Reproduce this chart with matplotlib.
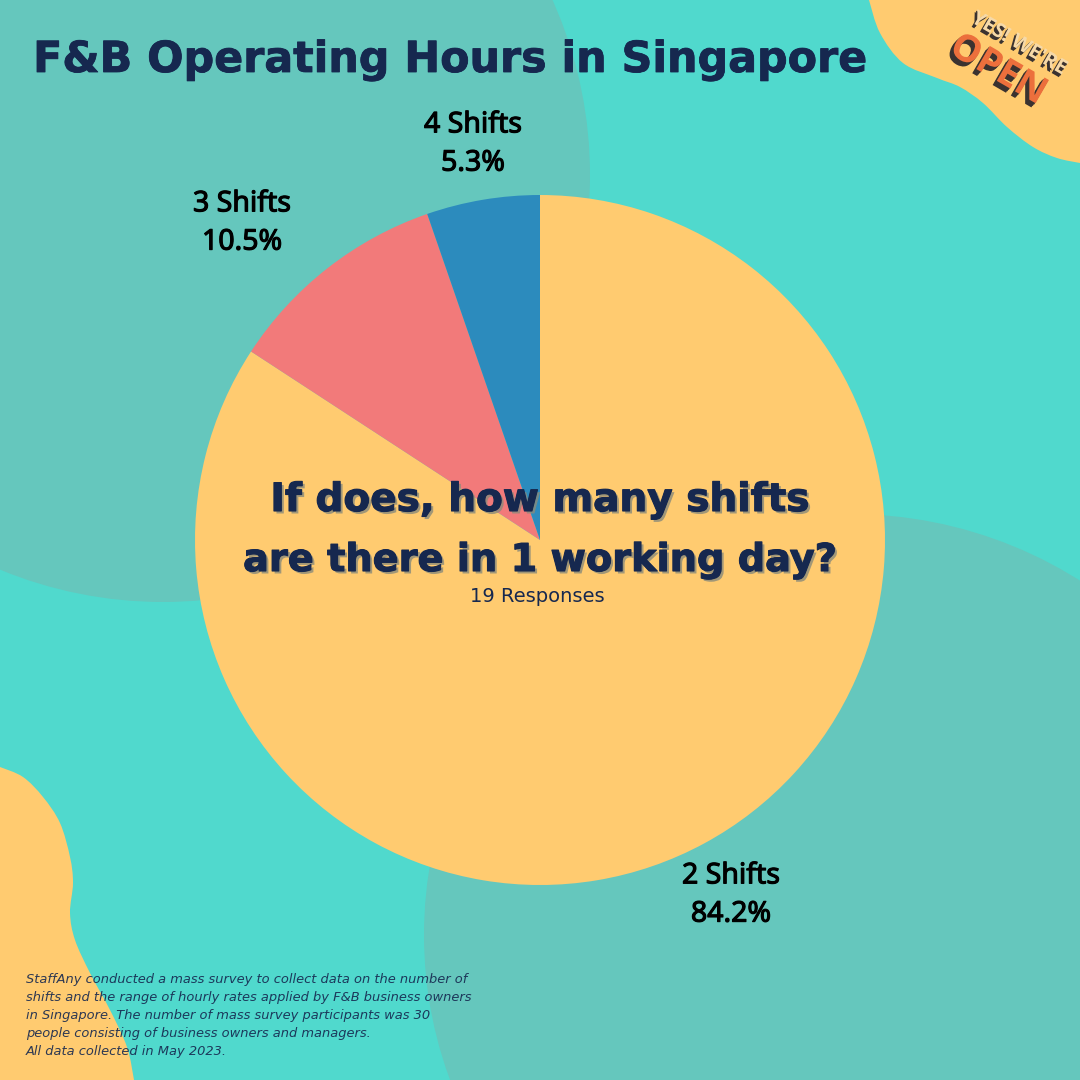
import matplotlib
matplotlib.use("Agg")
import matplotlib.pyplot as plt
import matplotlib.patheffects as pe
from matplotlib.patches import Circle, Ellipse, PathPatch
from matplotlib.path import Path

# data
labels = ["2 Shifts", "3 Shifts", "4 Shifts"]
values = [84.2, 10.5, 5.3]
colors = ["#FFCB70", "#F27A7A", "#2C8BBD"]

NAVY = "#16284F"
BG = "#50D9CD"
BLOB = "#65C7BD"
ORANGE = "#FFCB70"

title = "F&B Operating Hours in Singapore"
question = ["If does, how many shifts", "are there in 1 working day?"]
note = ["StaffAny conducted a mass survey to collect data on the number of",
        "shifts and the range of hourly rates applied by F&B business owners",
        "in Singapore. The number of mass survey participants was 30",
        "people consisting of business owners and managers.",
        "All data collected in May 2023."]

# outlines of the decorative corners, in pixels
corner_top = [(869, 0), (880, 33), (903, 63), (937, 78), (960, 87), (983, 103),
              (1007, 127), (1033, 147), (1057, 158), (1080, 163)]
corner_bottom = [(0, 767), (23, 777), (43, 797), (60, 823), (70, 857), (73, 883),
                 (70, 913), (75, 940), (90, 973), (110, 1010), (127, 1047), (134, 1080)]


# smooth curve through the points, closed off with straight lines
def blob(points, closing):
    verts = [points[0]]
    codes = [Path.MOVETO]
    for i in range(len(points) - 1):
        p0 = points[max(i - 1, 0)]
        p1 = points[i]
        p2 = points[i + 1]
        p3 = points[min(i + 2, len(points) - 1)]
        c1 = (p1[0] + (p2[0] - p0[0]) / 6, p1[1] + (p2[1] - p0[1]) / 6)
        c2 = (p2[0] - (p3[0] - p1[0]) / 6, p2[1] - (p3[1] - p1[1]) / 6)
        verts += [c1, c2, p2]
        codes += [Path.CURVE4] * 3
    for c in closing:
        verts.append(c)
        codes.append(Path.LINETO)
    verts.append(points[0])
    codes.append(Path.CLOSEPOLY)
    return Path(verts, codes)


# scale a text so that it is the given number of pixels wide
def fit_width(t, target):
    r = fig.canvas.get_renderer()
    w = t.get_window_extent(r).width
    t.set_fontsize(t.get_fontsize() * target / w)


fig = plt.figure(figsize=(10.8, 10.8), dpi=100, facecolor=BG)

# background layer uses pixel coordinates, y going down
bg = fig.add_axes([0, 0, 1, 1])
bg.set_xlim(0, 1080)
bg.set_ylim(1080, 0)
bg.axis("off")
bg.add_patch(Circle((163, 175), 427, color=BLOB, lw=0))
bg.add_patch(Ellipse((850, 935), 852, 842, color=BLOB, lw=0))
bg.add_patch(PathPatch(blob(corner_top, [(1080, 0)]), color=ORANGE, lw=0))
bg.add_patch(PathPatch(blob(corner_bottom, [(0, 1080)]), color=ORANGE, lw=0))

# pie, 195..885 px box
pie_ax = fig.add_axes([195 / 1080, 195 / 1080, 690 / 1080, 690 / 1080])
pie_ax.pie(values, colors=colors, startangle=90, counterclock=False, radius=1,
           wedgeprops={"linewidth": 0})
pie_ax.set_xlim(-1, 1)
pie_ax.set_ylim(-1, 1)

# top layer for the text
top = fig.add_axes([0, 0, 1, 1])
top.set_xlim(0, 1080)
top.set_ylim(1080, 0)
top.axis("off")

t = top.text(450, 60, title, fontsize=34, fontweight="bold", family="DejaVu Sans",
             color=NAVY, ha="center", va="center")
fit_width(t, 836)
t.set_path_effects([pe.withStroke(linewidth=0.6, foreground=NAVY)])

label_pos = [(731, 895), (242, 223), (473, 144)]
for name, val, (x, y) in zip(labels, values, label_pos):
    t = top.text(x, y, f"{name}\n{val}%", fontsize=20.5, fontweight="bold", family="Noto Sans",
                 color="black", ha="center", va="center", linespacing=1.42)
    t.set_path_effects([pe.withStroke(linewidth=0.8, foreground="black")])

widths = [540, 595]
for line, y, w in zip(question, [500, 561], widths):
    t = top.text(540, y, line, fontsize=33, fontweight="bold", family="DejaVu Sans",
                 color=NAVY, ha="center", va="center")
    fit_width(t, w)
    t.set_path_effects([pe.SimplePatchShadow(offset=(1.8, -1.8), shadow_rgbFace="#8A8A7A", alpha=0.8),
                        pe.withStroke(linewidth=0.8, foreground=NAVY)])

t = top.text(537, 596, "19 Responses", fontsize=15, family="DejaVu Sans", color=NAVY,
             ha="center", va="center")
fit_width(t, 135)

for i, line in enumerate(note):
    top.text(26, 979 + i * 18, line, fontsize=9.4, style="italic", family="DejaVu Sans",
             color=NAVY, ha="left", va="center", alpha=0.9)

# logo in the corner
dark = "#3A3230"
t = top.text(1019, 44, "YES! WE'RE", fontsize=14.5, fontweight="bold", family="Open Sans",
             color="#F6D9A8", rotation=-30, rotation_mode="anchor", ha="center", va="center")
t.set_path_effects([pe.SimplePatchShadow(offset=(-1, -1), shadow_rgbFace=dark, alpha=1),
                    pe.SimplePatchShadow(offset=(-2, -2), shadow_rgbFace=dark, alpha=1),
                    pe.Normal()])
t = top.text(998, 70, "OPEN", fontsize=27, fontweight="bold", family="Open Sans",
             color="#EC6F3C", rotation=-30, rotation_mode="anchor", ha="center", va="center")
t.set_path_effects([pe.SimplePatchShadow(offset=(-3, -3), shadow_rgbFace=dark, alpha=1),
                    pe.SimplePatchShadow(offset=(-2, -2), shadow_rgbFace=dark, alpha=1),
                    pe.SimplePatchShadow(offset=(-1, -1), shadow_rgbFace=dark, alpha=1),
                    pe.Normal()])

fig.savefig("out.png", dpi=100)
